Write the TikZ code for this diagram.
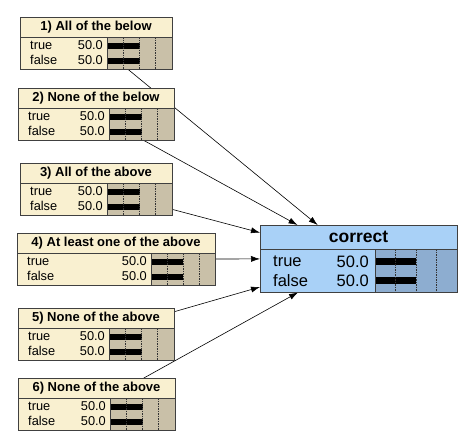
\documentclass[tikz,border=0pt]{standalone}
\usepackage{fontspec}
\setmainfont{Liberation Sans}
\usepackage{tikz}
\usetikzlibrary{arrows.meta,backgrounds}
\definecolor{CptBeige}{HTML}{F9F0D0}
\definecolor{CptTaupe}{HTML}{C9C0A8}
\definecolor{CptBlue}{HTML}{A9D1F7}
\definecolor{CptSteel}{HTML}{8DADD0}
\definecolor{CptFrame}{HTML}{404040}
\tikzset{
  cptframe/.style={rectangle,draw=none,inner sep=0pt},
  cptline/.style={draw=CptFrame,line width=.8pt},
  divider/.style={draw=black!80,dash pattern=on 1.5pt off 1pt,line width=.6pt},
  titletext/.style={inner sep=0pt,font=\fontsize{13}{15}\selectfont\bfseries},
  rowtext/.style={inner sep=0pt,font=\fontsize{12.8}{15}\selectfont},
  bigtitle/.style={inner sep=0pt,font=\fontsize{17.5}{20}\selectfont\bfseries},
  bigrow/.style={inner sep=0pt,font=\fontsize{16.5}{19}\selectfont},
  arrow/.style={-{Latex[length=9pt,width=6pt]},draw=black,line width=.6pt}
}
% #1 name, #2 left, #3 top, #4 width, #5 bar area width, #6 title
\newcommand{\cptnode}[6]{%
  \begin{scope}[shift={(#2,#3)}]
    \node[cptframe,minimum width=#4pt,minimum height=52pt,anchor=north west] (#1) at (0,0) {};
    \fill[CptBeige] (0,0) rectangle (#4-#5,52);
    \fill[CptBeige] (#4-#5,0) rectangle (#4,20);
    \fill[CptTaupe] (#4-#5,20) rectangle (#4,52);
    \fill[black] (#4-#5,26) rectangle ++(#5/2,6);
    \fill[black] (#4-#5,41) rectangle ++(#5/2,6);
    \foreach \k in {1,2,3}
      \draw[divider] ({#4-#5+\k*#5/4},20) -- ++(0,32);
    \draw[cptline] (0,20) -- (#4,20) (#4-#5,20) -- (#4-#5,52);
    \draw[cptline] (#1.north west) rectangle (#1.south east);
    \node[titletext] (#1-title) at (#4/2,10) {#6};
    \node[rowtext,anchor=west] (#1-true) at (10,28.5) {true};
    \node[rowtext,anchor=west] (#1-false) at (10,43) {false};
    \node[rowtext,anchor=east] (#1-ptrue) at (#4-#5-4,28.5) {50.0};
    \node[rowtext,anchor=east] (#1-pfalse) at (#4-#5-4,43) {50.0};
  \end{scope}%
}

\begin{document}
\begin{tikzpicture}[x=1pt,y=-1pt]
  \useasboundingbox (0,0) rectangle (474,447);
  \cptnode{q1}{20}{17}{152}{65}{1) All of the below}
  \cptnode{q2}{18}{88}{156}{65}{2) None of the below}
  \cptnode{q3}{20}{163}{152}{65}{3) All of the above}
  \cptnode{q4}{17}{233}{198}{64}{4) At least one of the above}
  \cptnode{q5}{18}{308}{156}{65}{5) None of the above}
  \cptnode{q6}{18}{378}{157}{65}{6) None of the above}
  % target node
  \begin{scope}[shift={(260,225)}]
    \node[cptframe,minimum width=197pt,minimum height=67pt,anchor=north west] (correct) at (0,0) {};
    \fill[CptBlue] (0,0) rectangle (197,24);
    \fill[CptBlue] (0,24) rectangle (115,67);
    \fill[CptSteel] (115,24) rectangle (197,67);
    \fill[black] (115,33) rectangle ++(41,7);
    \fill[black] (115,52) rectangle ++(41,7);
    \foreach \k in {1,2,3}
      \draw[divider] ({115+\k*20.5},24) -- ++(0,43);
    \draw[cptline] (0,24) -- (197,24) (115,24) -- (115,67);
    \draw[cptline] (correct.north west) rectangle (correct.south east);
    \node[bigtitle] (correct-title) at (98.5,12) {correct};
    \node[bigrow,anchor=west] (correct-true) at (13,36.5) {true};
    \node[bigrow,anchor=west] (correct-false) at (13,55.5) {false};
    \node[bigrow,anchor=east] (correct-ptrue) at (109,36.5) {50.0};
    \node[bigrow,anchor=east] (correct-pfalse) at (109,55.5) {50.0};
  \end{scope}
  \begin{scope}[on background layer]
    \foreach \src in {q1,q2,q3,q4,q5,q6}
      \draw[arrow] (\src) -- (correct);
  \end{scope}
\end{tikzpicture}
\end{document}
